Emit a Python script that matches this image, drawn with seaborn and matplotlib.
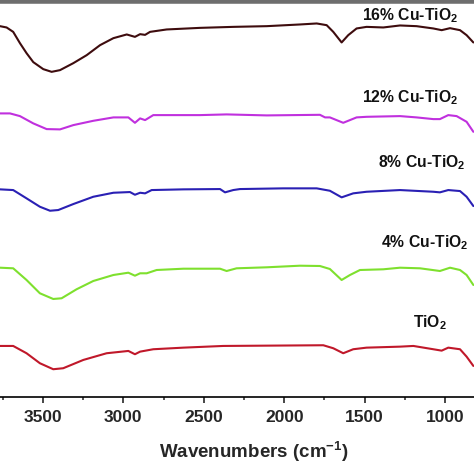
import matplotlib
matplotlib.use("Agg")
import matplotlib.pyplot as plt
from matplotlib.ticker import MultipleLocator
import pandas as pd
import seaborn as sns

# FTIR spectra (wavenumber in cm-1, transmittance in a.u. with offsets)
wn_tio2 = [3767, 3685, 3602, 3519, 3436, 3374, 3249, 3104, 2969, 2928, 2896, 2814, 2627, 2379,
           2109, 1757, 1695, 1633, 1571, 1488, 1280, 1197, 1073, 1021, 980, 907, 866, 824]
t_tio2 = [54, 54, 46.7, 36.7, 30.7, 31.7, 40, 46.7, 49, 45.7, 48.3, 50.7, 52.3, 54,
          54.3, 54.7, 51.7, 46.7, 50.7, 52.3, 53.3, 54, 50.7, 49.3, 52.3, 50.7, 43.3, 34]

wn_4 = [3767, 3685, 3602, 3519, 3436, 3384, 3291, 3187, 3062, 2969, 2928, 2896, 2855, 2793, 2627,
        2399, 2358, 2296, 2109, 1902, 1778, 1716, 1643, 1591, 1529, 1384, 1280, 1156, 1032, 969,
        907, 866, 824]
t_4 = [132.3, 131.7, 120, 106.7, 101, 101.7, 110.7, 119, 125, 127.3, 124.3, 126.7, 126.7, 130, 131.3,
       131.3, 129, 131.7, 132.7, 134.3, 134, 131, 120, 125, 130, 130.7, 132.3, 131.7, 129, 132.3,
       130, 125, 115]

wn_8 = [3767, 3685, 3602, 3519, 3456, 3405, 3311, 3187, 3062, 2959, 2928, 2896, 2865, 2824, 2627,
        2399, 2368, 2317, 2275, 2006, 1798, 1716, 1643, 1571, 1488, 1280, 1073, 1032, 980, 907,
        866, 824]
t_8 = [210.7, 210, 201.7, 193.3, 189.3, 190, 196, 203.3, 207.3, 208, 205.3, 207.3, 206.7, 210, 210.7,
       211, 207.7, 210, 211, 211.7, 211.7, 209.3, 202.7, 206.7, 208.3, 210, 208.3, 207.7, 210, 209,
       203.3, 194]

wn_12 = [3767, 3705, 3643, 3560, 3477, 3394, 3311, 3187, 3062, 2969, 2928, 2896, 2865, 2814, 2524,
         2358, 2109, 1778, 1746, 1716, 1633, 1550, 1488, 1280, 1177, 1073, 1032, 980, 928, 866, 824]
t_12 = [286.7, 286.7, 284, 276.7, 271, 270.7, 275, 279.3, 282.7, 282.7, 277.3, 281.7, 280, 285, 285,
        285.7, 284.7, 285.3, 282.7, 282.7, 277.3, 282.7, 283.3, 284, 282.7, 281, 281, 285, 284, 278.3,
        268.3]

wn_16 = [3767, 3726, 3685, 3643, 3602, 3560, 3498, 3446, 3394, 3311, 3228, 3145, 3062, 2979, 2928,
         2896, 2865, 2834, 2731, 2524, 2317, 2109, 1902, 1798, 1736, 1695, 1643, 1602, 1550, 1488,
         1384, 1280, 1177, 1073, 1021, 969, 907, 866, 824]
t_16 = [374, 372.7, 368.3, 357, 347, 338, 331, 328.3, 330, 337, 345, 355, 362, 365.7, 363.3,
        366, 365.3, 368.3, 370.7, 372.3, 373.3, 374, 375.7, 376.7, 375, 368.3, 357.7, 365, 371.7, 373.3,
        372.7, 374.7, 374, 371.7, 370, 372, 370, 365, 357.7]

samples = ["TiO2", "4%", "8%", "12%", "16%"]
labels = ["TiO$_2$", "4% Cu-TiO$_2$", "8% Cu-TiO$_2$", "12% Cu-TiO$_2$", "16% Cu-TiO$_2$"]
label_x = [988, 857, 876, 919, 919]
label_y = [77, 157, 237, 302, 385]
colors = ["#c0182a", "#7ee02e", "#2a20b4", "#c030de", "#3e0c0e"]

spectra = [(wn_tio2, t_tio2), (wn_4, t_4), (wn_8, t_8), (wn_12, t_12), (wn_16, t_16)]
rows = []
for name, (wn, t) in zip(samples, spectra):
    for w, v in zip(wn, t):
        rows.append({"sample": name, "wavenumber": w, "T": v})
df = pd.DataFrame(rows)

sns.set_style("white")
plt.rcParams["font.family"] = ["Liberation Sans", "DejaVu Sans"]
plt.rcParams["font.weight"] = "bold"
plt.rcParams["mathtext.fontset"] = "custom"
plt.rcParams["mathtext.rm"] = "Liberation Sans:bold"
plt.rcParams["mathtext.bf"] = "Liberation Sans:bold"
plt.rcParams["mathtext.default"] = "bf"

fig = plt.figure(figsize=(4.74, 4.74), dpi=100)
ax = fig.add_axes([0, 0.162, 1, 0.8355])

sns.lineplot(data=df, x="wavenumber", y="T", hue="sample", palette=dict(zip(samples, colors)),
             estimator=None, sort=False, legend=False, linewidth=1.5, ax=ax)

for lab, x, y in zip(labels, label_x, label_y):
    ax.text(x, y, lab, ha="right", va="center", fontsize=11.3, fontweight="bold", color="#111111")

ax.set_xlim(3767, 820)
ax.set_ylim(2.7, 399)
ax.xaxis.set_major_locator(MultipleLocator(500))
ax.xaxis.set_minor_locator(MultipleLocator(250))
ax.set_yticks([])
ax.set_ylabel("")
ax.set_xlabel("Wavenumbers (cm$^{-1}$)", fontsize=13.5, fontweight="bold")
ax.xaxis.label.set_va("center")
ax.xaxis.set_label_coords(0.535, -0.137)
ax.tick_params(axis="x", which="major", direction="out", length=4.5, width=1.2, labelsize=12.5,
               pad=4.5, bottom=True)
ax.tick_params(axis="x", which="minor", direction="out", length=2.2, width=1.1, bottom=True)
for lab in ax.get_xticklabels():
    lab.set_fontweight("bold")

ax.spines["left"].set_visible(False)
ax.spines["right"].set_visible(False)
ax.spines["bottom"].set_linewidth(1.2)
ax.spines["bottom"].set_color("black")
ax.spines["top"].set_linewidth(4)
ax.spines["top"].set_color("#6e6e6e")

fig.savefig("out.png", dpi=100)
